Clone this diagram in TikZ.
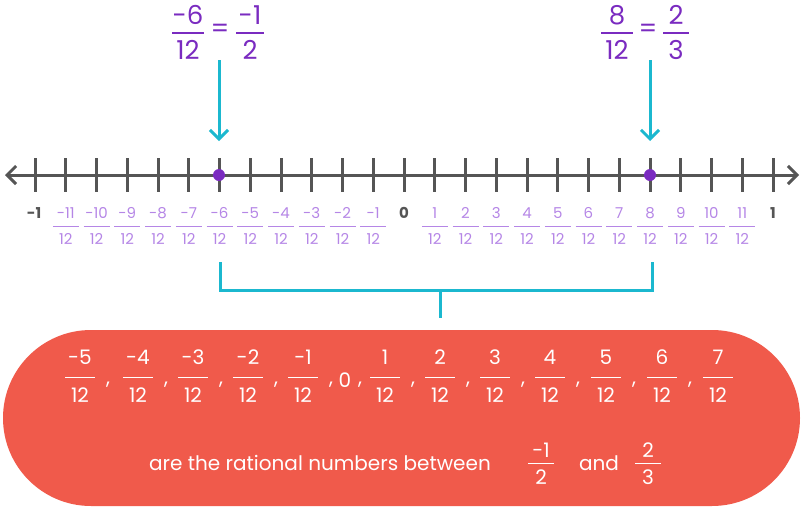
\documentclass[tikz,border=0pt]{standalone}
\usepackage{fontspec}
\setmainfont{Poppins}
\usetikzlibrary{arrows.meta}
\definecolor{lgrey}{HTML}{555555}
\definecolor{purp}{HTML}{7A2BC0}
\definecolor{lpurp}{HTML}{B586E6}
\definecolor{cyanc}{HTML}{1BB8CF}
\definecolor{redc}{HTML}{F05A4B}
\tikzset{
 lbl/.style={inner sep=0pt,font=\fontsize{15}{15}\selectfont},
 top/.style={inner sep=0pt,text=purp,font=\fontsize{26}{26}\selectfont},
 wt/.style={inner sep=0pt,text=white,font=\fontsize{20}{20}\selectfont},
 conn/.style={cyanc,line width=3pt},
}
\begin{document}
\begin{tikzpicture}[x=1pt,y=-1pt]
\useasboundingbox (0,0) rectangle (804,509);
% number line
\coordinate (L) at (5,175); \coordinate (R) at (799,175);
\draw[lgrey,line width=3pt,{Straight Barb[length=9pt,width=18pt]}-{Straight Barb[length=9pt,width=18pt]}] (L) -- (R);
\foreach \i in {-12,...,12}{
 \draw[lgrey,line width=3pt] ({404+\i*30.75},158) -- ({404+\i*30.75},192);
}
\node[lbl,text=lgrey,font=\bfseries\fontsize{15}{15}\selectfont] (m1) at (34,213) {-1};
\node[lbl,text=lgrey,font=\bfseries\fontsize{15}{15}\selectfont] (z) at (404,213) {0};
\node[lbl,text=lgrey,font=\bfseries\fontsize{15}{15}\selectfont] (p1) at (773,213) {1};
\foreach \i in {-11,...,-1,1,2,...,11}{
 \node[lbl,text=lpurp] (n\i) at ({404+\i*30.75},213) {\i};
 \node[lbl,text=lpurp] (d\i) at ({404+\i*30.75},239) {12};
 \draw[lpurp,line width=0.8pt] ({404+\i*30.75-13},226) -- ({404+\i*30.75+13},226);
}
% points
\node[circle,fill=purp,inner sep=0pt,minimum size=12pt] (A) at (219,175) {};
\node[circle,fill=purp,inner sep=0pt,minimum size=12pt] (B) at (650,175) {};
% top fractions
\node[top] (t1) at (188,15) {-6};\node[top] (t2) at (188,50) {12};
\draw[purp,line width=1.2pt] (172,33) -- (204,33);
\node[top] at (220,31) {=};
\node[top] (t3) at (250,15) {-1};\node[top] (t4) at (250,50) {2};
\draw[purp,line width=1.2pt] (236,33) -- (264,33);
\node[top] (t5) at (617,15) {8};\node[top] (t6) at (617,50) {12};
\draw[purp,line width=1.2pt] (601,33) -- (633,33);
\node[top] at (648,31) {=};
\node[top] (t7) at (676,15) {2};\node[top] (t8) at (676,50) {3};
\draw[purp,line width=1.2pt] (663,33) -- (689,33);
\coordinate (a0) at (219,60); \coordinate (b0) at (650,60);
\draw[conn,-{Straight Barb[length=9pt,width=18pt]}] (a0) -- (219,141);
\draw[conn,-{Straight Barb[length=9pt,width=18pt]}] (b0) -- (650,141);
% bracket
\coordinate (bl) at (220,262); \coordinate (br) at (652,262); \coordinate (bm) at (440,318);
\draw[conn] (bl) -- (220,290) -- (652,290) -- (br);
\draw[conn] (440,290) -- (bm);
% red box
\node[fill=redc,rounded corners=88pt,minimum width=797pt,minimum height=176pt,inner sep=0pt] (box) at (401.5,418) {};
\foreach \x/\n in {80/-5,138/-4,193/-3,248/-2,303/-1,385/1,440/2,495/3,550/4,606/5,662/6,718/7}{
 \node[wt] at (\x,357) {\n};
 \node[wt] at (\x,395) {12};
 \draw[white,line width=1pt] (\x-15,377) -- (\x+15,377);
}
\foreach \x in {108,166,221,276,331,360,413,468,523,578,634,690}{
 \node[wt] at (\x,385) {,};
}
\node[wt] at (345,380) {0};
\node[wt] (txt) at (320,463) {are the rational numbers between};
\node[wt] at (541,450) {-1};\node[wt] at (541,477) {2};
\draw[white,line width=1pt] (528,463) -- (554,463);
\node[wt] at (599,463) {and};
\node[wt] at (648,450) {2};\node[wt] at (648,477) {3};
\draw[white,line width=1pt] (635,463) -- (661,463);
\end{tikzpicture}
\end{document}
